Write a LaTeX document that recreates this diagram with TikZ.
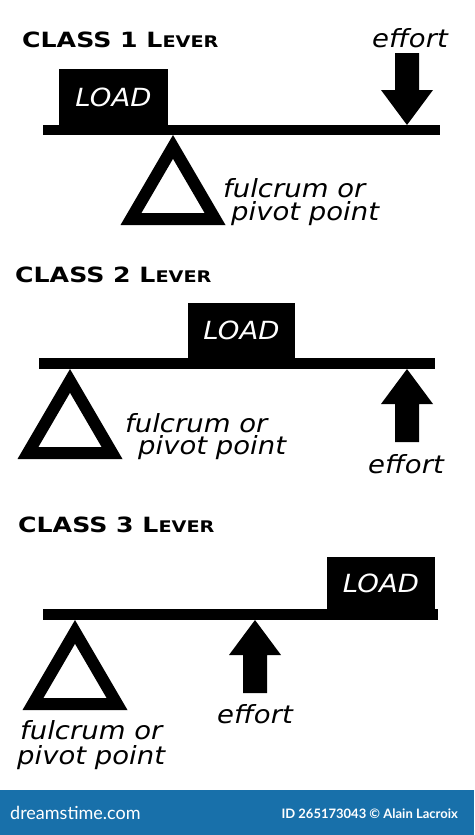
\documentclass[tikz,border=0pt]{standalone}
\usepackage{fontspec}
\setmainfont{DejaVu Sans}
\newfontfamily\handfont{DejaVu Sans}
\newfontfamily\titlefont{DejaVu Sans}
\newfontfamily\wmfont{Lato}
\definecolor{barblue}{RGB}{24,112,170}
\tikzset{
  beam/.style={fill=black},
  loadbox/.style={fill=black, text=white, inner sep=0pt, font=\handfont\itshape\fontsize{25}{25}\selectfont},
  hand/.style={inner sep=0pt, anchor=base west, font=\handfont\itshape\fontsize{25}{22}\selectfont},
  title/.style={inner sep=0pt, anchor=base west, font=\titlefont\bfseries},
  pics/fulcrum/.style={code={
    \fill[black, even odd rule] (0,0) -- (-52.5,90) -- (52.5,90) -- cycle
      (0,23.8) -- (-31.6,78) -- (31.6,78) -- cycle;
  }},
  pics/effortdown/.style={code={
    \fill[black] (0,0) -- (-26,-35) -- (-12,-35) -- (-12,-72) -- (12,-72) -- (12,-35) -- (26,-35) -- cycle;
  }},
  pics/effortup/.style={code={
    \fill[black] (0,0) -- (-26,35) -- (-12,35) -- (-12,73) -- (12,73) -- (12,35) -- (26,35) -- cycle;
  }}
}
\newcommand{\hw}[1]{\scalebox{1.1}[1]{#1}}
\newcommand{\twolines}[4]{\begin{tabular}[t]{@{}l@{}}\hspace*{#1}\hw{fulcrum or}\\[#3]\hspace*{#2}\hw{pivot point}\end{tabular}}
\newcommand{\cltitle}[1]{\scalebox{1.2}[1]{{\fontsize{21}{21}\selectfont CLASS #1 L}{\fontsize{16}{16}\selectfont EVER}}}
\begin{document}
\begin{tikzpicture}[x=1pt,y=-1pt]
\useasboundingbox (0,0) rectangle (474,835);
\fill[white] (0,0) rectangle (474,835);

% ---------- Class 1 ----------
\node[title] (t1) at (22,47) {\cltitle{1}};
\fill[beam] (43,125) rectangle (440,135);
\node[loadbox, minimum width=109pt, minimum height=56pt] (load1) at (113.5,97) {\hw{LOAD}};
\pic at (173,135) {fulcrum};
\pic at (407,125) {effortdown};
\node[hand] (e1) at (372,47) {\hw{effort}};
\node[hand] (f1) at (223,197) {\twolines{0pt}{8pt}{-2pt}{}};

% ---------- Class 2 ----------
\node[title] (t2) at (15,282) {\cltitle{2}};
\fill[beam] (39,358) rectangle (435,369);
\node[loadbox, minimum width=107pt, minimum height=55pt] (load2) at (241.5,330.5) {\hw{LOAD}};
\pic at (70,369) {fulcrum};
\pic at (407,369) {effortup};
\node[hand] (e2) at (368,473) {\hw{effort}};
\node[hand] (f2) at (125,432) {\twolines{0pt}{13pt}{-3pt}{}};

% ---------- Class 3 ----------
\node[title] (t3) at (18,532) {\cltitle{3}};
\fill[beam] (43,609) rectangle (438,620);
\node[loadbox, minimum width=108pt, minimum height=52pt] (load3) at (381,583) {\hw{LOAD}};
\pic at (75,620) {fulcrum};
\pic at (255,620) {effortup};
\node[hand] (e3) at (217,723) {\hw{effort}};
\node[hand] (f3) at (17,739) {\twolines{3pt}{0pt}{0pt}{}};

% ---------- bottom bar ----------
\fill[barblue] (0,790) rectangle (474,835);
\node[inner sep=0pt, anchor=base west, text=white, font=\wmfont\fontsize{18}{18}\selectfont] (wm1) at (10,819) {dreamstime.com};
\node[inner sep=0pt, anchor=base east, text=white, font=\wmfont\bfseries\fontsize{13}{13}\selectfont] (wm2) at (458,818) {ID 265173043 © Alain Lacroix};
\end{tikzpicture}
\end{document}
